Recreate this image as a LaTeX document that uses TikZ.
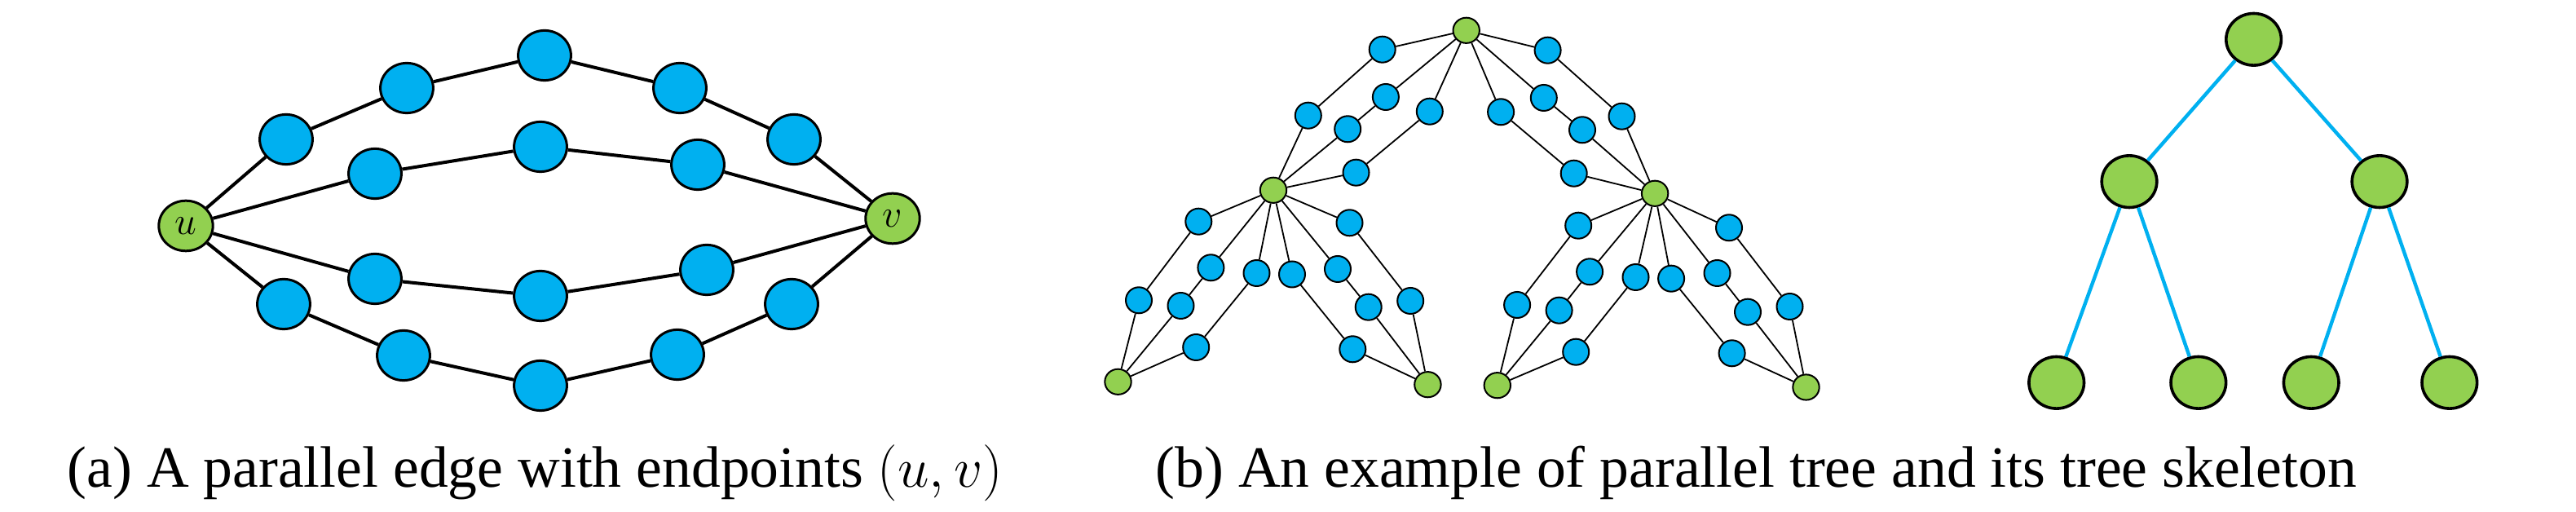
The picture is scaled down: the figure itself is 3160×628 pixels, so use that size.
\documentclass[tikz,border=0pt]{standalone}
\usepackage[no-math]{fontspec}
\setmainfont{Liberation Serif}
\newfontfamily\capfont{Liberation Serif}
\usetikzlibrary{shapes.geometric}
\definecolor{nblue}{HTML}{00B0F0}
\definecolor{ngreen}{HTML}{92D050}
\begin{document}
\begin{tikzpicture}[x=0.25pt,y=-0.25pt,
  ablue/.style={ellipse,draw=black,line width=0.75pt,fill=nblue,minimum width=16.2pt,minimum height=15.3pt,inner sep=0pt},
  agreen/.style={ablue,fill=ngreen,minimum width=16.6pt,minimum height=15.4pt,font=\fontsize{12}{14}\selectfont},
  aedge/.style={line width=1pt},
  bblue/.style={ellipse,draw=black,line width=0.5pt,fill=nblue,minimum width=8pt,minimum height=8pt,inner sep=0pt},
  bgreen/.style={bblue,fill=ngreen,minimum width=8.1pt,minimum height=7.8pt},
  bedge/.style={line width=0.45pt},
  sknode/.style={ellipse,draw=black,line width=0.9pt,fill=ngreen,minimum width=16.9pt,minimum height=15.9pt,inner sep=0pt},
  skedge/.style={draw=nblue,line width=1.1pt},
  captext/.style={anchor=base west,inner sep=0pt,font=\capfont\fontsize{17.9}{21}\selectfont}]
\useasboundingbox (0,0) rectangle (3160,628);
% ---------- (a) ----------
\node[agreen] (u) at (228,277) {$u$};
\node[agreen] (v) at (1095,268) {$v$};
\node[ablue] (A1) at (351,171) {};
\node[ablue] (A2) at (499,108) {};
\node[ablue] (A3) at (668,68) {};
\node[ablue] (A4) at (834,108) {};
\node[ablue] (A5) at (974,171) {};
\node[ablue] (B1) at (460,213) {};
\node[ablue] (B2) at (663,180) {};
\node[ablue] (B3) at (856,202) {};
\node[ablue] (C1) at (460,342) {};
\node[ablue] (C2) at (663,363) {};
\node[ablue] (C3) at (867,331) {};
\node[ablue] (D1) at (348,373) {};
\node[ablue] (D2) at (495,436) {};
\node[ablue] (D3) at (663,473) {};
\node[ablue] (D4) at (831,435) {};
\node[ablue] (D5) at (971,373) {};
\draw[aedge] (u) -- (A1) -- (A2) -- (A3) -- (A4) -- (A5) -- (v);
\draw[aedge] (u) -- (B1) -- (B2) -- (B3) -- (v);
\draw[aedge] (u) -- (C1) -- (C2) -- (C3) -- (v);
\draw[aedge] (u) -- (D1) -- (D2) -- (D3) -- (D4) -- (D5) -- (v);
% ---------- (b) parallel tree ----------
\node[bgreen] (bR) at (1798.7,37.3) {};
\node[bgreen] (bL) at (1562,233.3) {};
\node[bgreen] (bM) at (2030.1,237.3) {};
\node[bgreen] (bLL) at (1371.5,468.3) {};
\node[bgreen] (bLR) at (1751.4,471.7) {};
\node[bgreen] (bRL) at (1836.8,472.7) {};
\node[bgreen] (bRR) at (2215.5,475) {};
\node[bblue] (a1) at (1695.7,60.7) {};
\node[bblue] (a2) at (1604.8,141.7) {};
\node[bblue] (b1) at (1699.9,119) {};
\node[bblue] (b2) at (1653.2,158.3) {};
\node[bblue] (c1) at (1753.8,136.7) {};
\node[bblue] (c2) at (1663.5,211.7) {};
\node[bblue] (d1) at (1898.6,61.7) {};
\node[bblue] (d2) at (1989.5,142.7) {};
\node[bblue] (e1) at (1893.8,120) {};
\node[bblue] (e2) at (1941,159.3) {};
\node[bblue] (f1) at (1841.1,137.3) {};
\node[bblue] (f2) at (1930.7,212.7) {};
\node[bblue] (g1) at (1470.3,271.7) {};
\node[bblue] (g2) at (1397,368.3) {};
\node[bblue] (h1) at (1485.4,328.3) {};
\node[bblue] (h2) at (1448.5,375) {};
\node[bblue] (i1) at (1541.5,335) {};
\node[bblue] (i2) at (1467.2,426) {};
\node[bblue] (j1) at (1585,336.5) {};
\node[bblue] (j2) at (1659.3,428.3) {};
\node[bblue] (k1) at (1641,330) {};
\node[bblue] (k2) at (1678.7,376.7) {};
\node[bblue] (l1) at (1655.5,273.3) {};
\node[bblue] (l2) at (1730.2,369) {};
\node[bblue] (m1) at (1936.2,276.7) {};
\node[bblue] (m2) at (1861.1,374) {};
\node[bblue] (n1) at (1950.1,333.3) {};
\node[bblue] (n2) at (1912.6,380.7) {};
\node[bblue] (o1) at (2006.5,340) {};
\node[bblue] (o2) at (1933.2,431.7) {};
\node[bblue] (p1) at (2050.1,341.7) {};
\node[bblue] (p2) at (2124.6,433.3) {};
\node[bblue] (q1) at (2106.5,335) {};
\node[bblue] (q2) at (2144,382.7) {};
\node[bblue] (r1) at (2121,279.3) {};
\node[bblue] (r2) at (2195.5,376) {};
\draw[bedge] (bR) -- (a1) -- (a2) -- (bL);
\draw[bedge] (bR) -- (b1) -- (b2) -- (bL);
\draw[bedge] (bR) -- (c1) -- (c2) -- (bL);
\draw[bedge] (bR) -- (d1) -- (d2) -- (bM);
\draw[bedge] (bR) -- (e1) -- (e2) -- (bM);
\draw[bedge] (bR) -- (f1) -- (f2) -- (bM);
\draw[bedge] (bL) -- (g1) -- (g2) -- (bLL);
\draw[bedge] (bL) -- (h1) -- (h2) -- (bLL);
\draw[bedge] (bL) -- (i1) -- (i2) -- (bLL);
\draw[bedge] (bL) -- (j1) -- (j2) -- (bLR);
\draw[bedge] (bL) -- (k1) -- (k2) -- (bLR);
\draw[bedge] (bL) -- (l1) -- (l2) -- (bLR);
\draw[bedge] (bM) -- (m1) -- (m2) -- (bRL);
\draw[bedge] (bM) -- (n1) -- (n2) -- (bRL);
\draw[bedge] (bM) -- (o1) -- (o2) -- (bRL);
\draw[bedge] (bM) -- (p1) -- (p2) -- (bRR);
\draw[bedge] (bM) -- (q1) -- (q2) -- (bRR);
\draw[bedge] (bM) -- (r1) -- (r2) -- (bRR);
% ---------- (b) tree skeleton ----------
\node[sknode] (s0) at (2764.6,48.3) {};
\node[sknode] (s1) at (2612,222.7) {};
\node[sknode] (s2) at (2919,222.7) {};
\node[sknode] (s3) at (2522.7,469.3) {};
\node[sknode] (s4) at (2696.8,469.3) {};
\node[sknode] (s5) at (2835.2,469.3) {};
\node[sknode] (s6) at (3004.8,469.3) {};
\draw[skedge] (s0) -- (s1);
\draw[skedge] (s0) -- (s2);
\draw[skedge] (s1) -- (s3);
\draw[skedge] (s1) -- (s4);
\draw[skedge] (s2) -- (s5);
\draw[skedge] (s2) -- (s6);
% ---------- captions ----------
\node[captext] (capa) at (82,598) {(a) A parallel edge with endpoints $(u,v)$};
\node[captext] (capb) at (1417,598) {(b) An example of parallel tree and its tree skeleton};
\end{tikzpicture}
\end{document}
